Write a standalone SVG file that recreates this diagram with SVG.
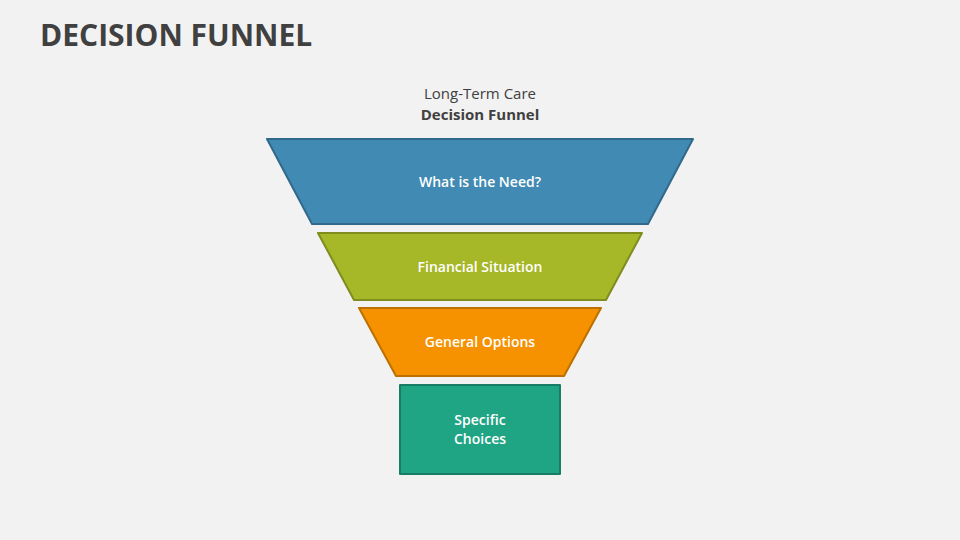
<svg xmlns="http://www.w3.org/2000/svg" width="960" height="540" viewBox="0 0 960 540">
<style>
.t{font-family:"Open Sans","Liberation Sans",sans-serif;font-size:14px;font-weight:600;fill:#fff;text-anchor:middle}
.s{stroke-width:2;stroke-linejoin:round}
</style>
<rect width="960" height="540" fill="#f2f2f2"/>
<text x="40" y="46" font-family="Open Sans, Liberation Sans, sans-serif" font-size="30" font-weight="700" fill="#404040">DECISION FUNNEL</text>
<text x="480" y="99" text-anchor="middle" font-family="Open Sans, Liberation Sans, sans-serif" font-size="15" fill="#404040">Long-Term Care</text>
<text x="480" y="120" text-anchor="middle" font-family="Open Sans, Liberation Sans, sans-serif" font-size="15" font-weight="700" fill="#404040">Decision Funnel</text>
<g id="need"><polygon class="s" points="267,139 693,139 648,224 312,224" fill="#418ab3" stroke="#31698a"/><text class="t" x="480" y="187">What is the Need?</text></g>
<g id="financial"><polygon class="s" points="318,233 642,233 606,300 354,300" fill="#a6b727" stroke="#7f8c1e"/><text class="t" x="480" y="272">Financial Situation</text></g>
<g id="options"><polygon class="s" points="359,308 601,308 564,376 396,376" fill="#f69200" stroke="#bd7000"/><text class="t" x="480" y="347">General Options</text></g>
<g id="choices"><rect class="s" x="400" y="385" width="160" height="89" fill="#1fa484" stroke="#177e65"/><text class="t" x="480" y="425">Specific</text><text class="t" x="480" y="444">Choices</text></g>
<g id="connectors"/>
</svg>
